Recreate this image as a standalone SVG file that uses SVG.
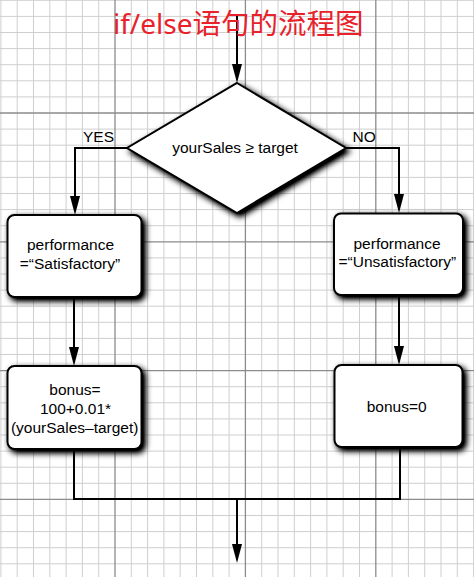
<svg xmlns="http://www.w3.org/2000/svg" width="474" height="577" viewBox="0 0 474 577">
<style>
.minor{stroke:#cfcfcf;stroke-width:1;fill:none}
.major{stroke:#8c8c8c;stroke-width:1.3;fill:none}
.shape{fill:#fff;stroke:#000;stroke-width:2;filter:url(#sh)}
.lbl{font-family:"Liberation Sans",Arial,sans-serif;font-size:15.5px;fill:#000}
.c{text-anchor:middle}
.conn{fill:none;stroke:#000;stroke-width:2}
.title{font-family:"Noto Sans CJK SC","Noto Sans",sans-serif;font-size:28.5px;fill:#e8212b}
.latin{font-family:"Noto Sans",sans-serif;font-size:28px}
</style>
<defs>
<filter id="sh" x="-20%" y="-20%" width="150%" height="150%">
<feGaussianBlur in="SourceAlpha" stdDeviation="3"/>
<feOffset dx="3" dy="3"/>
<feComponentTransfer><feFuncA type="linear" slope="1.3"/></feComponentTransfer>
<feMerge><feMergeNode/><feMergeNode in="SourceGraphic"/></feMerge>
</filter>
<marker id="ah" markerUnits="userSpaceOnUse" markerWidth="19" markerHeight="10" viewBox="0 0 19 10" refX="15" refY="5" orient="auto">
<path d="M0,0 L19,5 L0,10 z" fill="#000"/>
</marker>
</defs>
<rect width="474" height="577" fill="#fff"/>
<g id="grid">
<path class="minor" d="M0.9,0V577M17.2,0V577M33.5,0V577M49.8,0V577M66.1,0V577M82.4,0V577M98.7,0V577M131.3,0V577M147.6,0V577M163.9,0V577M180.2,0V577M196.5,0V577M212.8,0V577M229.1,0V577M261.7,0V577M278,0V577M294.3,0V577M310.6,0V577M326.9,0V577M343.2,0V577M359.5,0V577M392.1,0V577M408.4,0V577M424.7,0V577M441,0V577M457.3,0V577M473.6,0V577
M0,0.3H474M0,16.4H474M0,32.5H474M0,48.6H474M0,64.7H474M0,80.8H474M0,96.9H474M0,129.1H474M0,145.2H474M0,161.3H474M0,177.4H474M0,193.5H474M0,209.6H474M0,225.7H474M0,257.9H474M0,274H474M0,290.1H474M0,306.2H474M0,322.3H474M0,338.4H474M0,354.5H474M0,386.7H474M0,402.8H474M0,418.9H474M0,435H474M0,451.1H474M0,467.2H474M0,483.3H474M0,515.5H474M0,531.6H474M0,547.7H474M0,563.8H474"/>
<path class="major" d="M115,0V577M245.4,0V577M375.8,0V577M0,113H474M0,241.8H474M0,370.6H474M0,499.4H474"/>
</g>
<g id="connectors">
<path class="conn" d="M237,14V79" marker-end="url(#ah)"/>
<path class="conn" d="M127,148H75V211" marker-end="url(#ah)"/>
<path class="conn" d="M346,148H399V209" marker-end="url(#ah)"/>
<path class="conn" d="M74,297V362" marker-end="url(#ah)"/>
<path class="conn" d="M399,295V361" marker-end="url(#ah)"/>
<path class="conn" d="M74,449V499H400V447"/>
<path class="conn" d="M237,499V559" marker-end="url(#ah)"/>
<text class="lbl" x="83" y="142">YES</text>
<text class="lbl" x="352.5" y="142">NO</text>
</g>
<g id="title">
<text class="title" x="113" y="33.5"><tspan class="latin">if/else</tspan>语句的流程图</text>
</g>
<g id="decision">
<polygon class="shape" points="237,83 346,148 237,213 127,148"/>
<text class="lbl c" x="235" y="152.5">yourSales ≥ target</text>
</g>
<g id="satisfactory">
<rect class="shape" x="7.5" y="215" width="134" height="82" rx="7"/>
<text class="lbl c" x="70.5" y="250">performance</text>
<text class="lbl c" x="70" y="268.5">=“Satisfactory”</text>
</g>
<g id="bonus-calc">
<rect class="shape" x="7.5" y="366" width="134" height="83" rx="7"/>
<text class="lbl c" x="75" y="394.5">bonus=</text>
<text class="lbl c" x="75.5" y="413.5">100+0.01*</text>
<text class="lbl c" x="74.7" y="433">(yourSales–target)</text>
</g>
<g id="unsatisfactory">
<rect class="shape" x="334" y="213.5" width="129" height="81.5" rx="7"/>
<text class="lbl c" x="397" y="248.5">performance</text>
<text class="lbl c" x="397.3" y="267">=“Unsatisfactory”</text>
</g>
<g id="bonus-zero">
<rect class="shape" x="334.5" y="365" width="128" height="82" rx="7"/>
<text class="lbl c" x="396.7" y="412">bonus=0</text>
</g>
</svg>
